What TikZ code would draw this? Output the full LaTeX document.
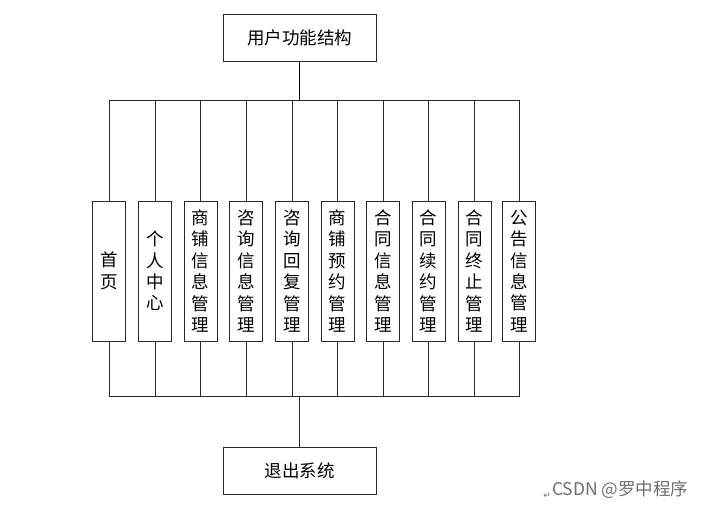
\documentclass[tikz,border=0pt]{standalone}
\usepackage{fontspec}
\usepackage{xcolor}
\usetikzlibrary{positioning}
\newfontfamily\cjk{Noto Sans CJK SC}
\newfontfamily\symfont{DejaVu Sans}
\definecolor{linegray}{RGB}{40, 40, 40}
\definecolor{markgray}{RGB}{110, 110, 110}

\begin{document}
\begin{tikzpicture}[
    x=1pt, y=-1pt,
    mainbox/.style={draw=linegray, fill=white, line width=0.9pt, rectangle, minimum width=153pt, minimum height=47pt, font=\cjk\fontsize{17.5}{21.4}\selectfont},
    subbox/.style={draw=linegray, fill=white, line width=0.9pt, rectangle, minimum width=33pt, minimum height=140pt, inner sep=0pt, align=center, font=\cjk\fontsize{17.5}{21.4}\selectfont},
    bus/.style={draw=linegray, line width=0.8pt},
    stem/.style={draw=black, line width=1.6pt}
]
    \useasboundingbox (0,0) rectangle (704,509);

    \node [mainbox] (top) at (299.5, 37.5) {用户功能结构};

    \node [subbox] (b1) at (109.3, 271) {首\\页};
    \node [subbox] (b2) at (155, 271) {个\\人\\中\\心};
    \node [subbox] (b3) at (200.5, 271) {商\\铺\\信\\息\\管\\理};
    \node [subbox] (b4) at (246.3, 271) {咨\\询\\信\\息\\管\\理};
    \node [subbox] (b5) at (292, 271) {咨\\询\\回\\复\\管\\理};
    \node [subbox] (b6) at (337.5, 271) {商\\铺\\预\\约\\管\\理};
    \node [subbox] (b7) at (383, 271) {合\\同\\信\\息\\管\\理};
    \node [subbox] (b8) at (428.5, 271) {合\\同\\续\\约\\管\\理};
    \node [subbox] (b9) at (474.5, 271) {合\\同\\终\\止\\管\\理};
    \node [subbox] (b10) at (519, 271) {公\\告\\信\\息\\管\\理};

    \node [mainbox] (quit) at (299.5, 471) {退出系统};

    \coordinate (tj) at (299.5, 100);
    \coordinate (bj) at (299.5, 396);

    % upper bus
    \draw [stem] (top.south) -- (tj);
    \draw [bus] (tj) -| (b1.north);
    \draw [bus] (tj) -| (b10.north);
    \foreach \i in {2,...,9}
        \draw [bus] (b\i.north) -- (b\i.north |- tj);

    % lower bus
    \draw [bus] (bj) -| (b1.south);
    \draw [bus] (bj) -| (b10.south);
    \foreach \i in {2,...,9}
        \draw [bus] (b\i.south) -- (b\i.south |- bj);
    \draw [bus] (bj) -- (quit.north);

    \node [text=markgray, font=\cjk\fontsize{17.5}{19}\selectfont, inner sep=0pt, anchor=west] (mark) at (552, 490) {CSDN @罗中程序};
    \node [text=markgray, font=\symfont\fontsize{9}{10}\selectfont, inner sep=0pt, left=1pt of mark.south west, anchor=south east] (ret) {↵};
\end{tikzpicture}
\end{document}
